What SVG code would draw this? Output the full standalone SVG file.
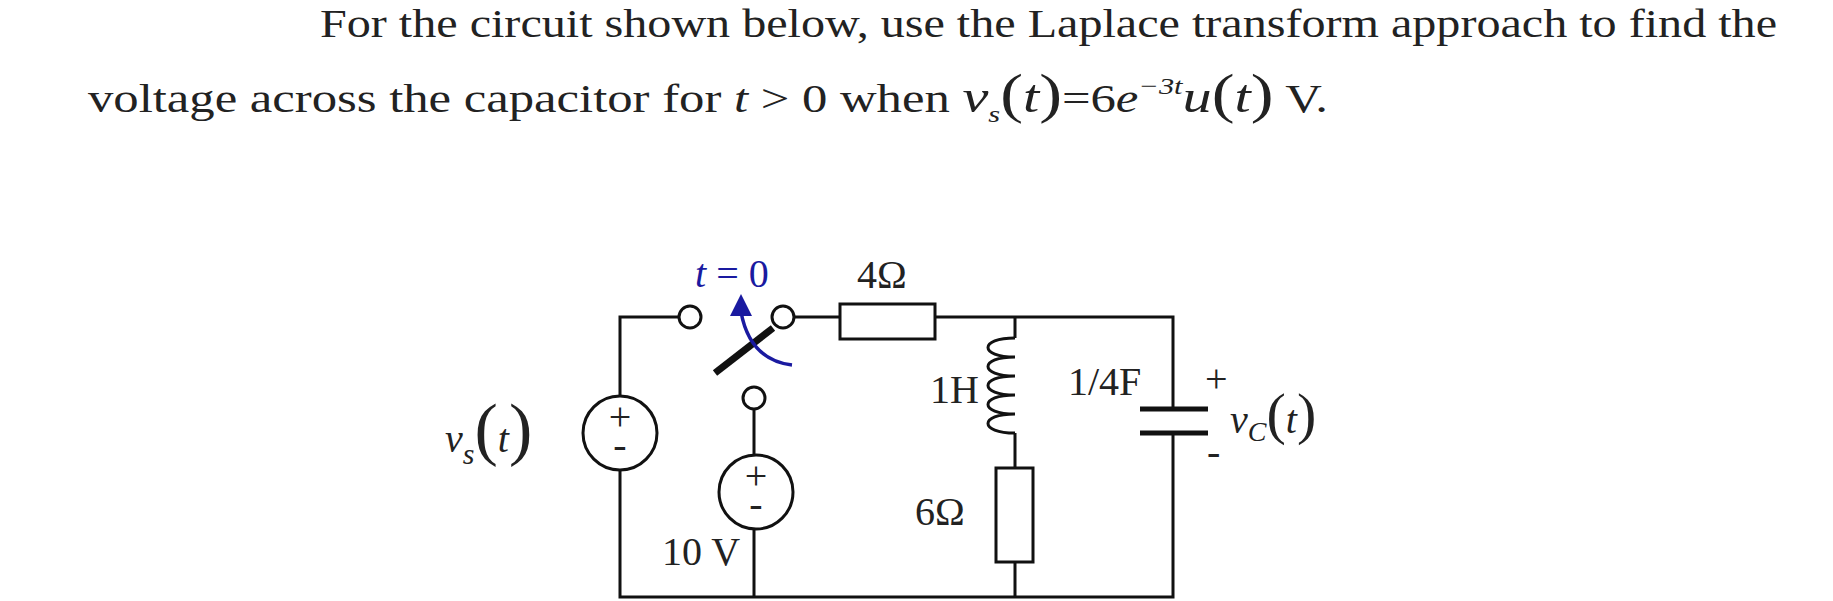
<svg xmlns="http://www.w3.org/2000/svg" width="1833" height="601" viewBox="0 0 1833 601">
<style>
.w{fill:none;stroke:#111;stroke-width:3}
.t{font-family:"Liberation Serif","DejaVu Serif",serif;font-size:40px;fill:#222}
.i{font-style:italic}
.b{fill:#1a1aa0}
</style>
<rect width="1833" height="601" fill="#fff"/>
<g id="question">
<text class="t" x="320" y="37" font-size="42" textLength="1457" lengthAdjust="spacingAndGlyphs">For the circuit shown below, use the Laplace transform approach to find the</text>
<text class="t" x="88" y="112" font-size="42" textLength="1240" lengthAdjust="spacingAndGlyphs">voltage across the capacitor for <tspan class="i">t</tspan> &gt; 0 when  <tspan class="i" font-size="46">v</tspan><tspan class="i" font-size="24" dy="10">s</tspan><tspan dy="-10" font-size="54">(</tspan><tspan class="i" font-size="46">t</tspan><tspan font-size="54">)</tspan>=6<tspan class="i">e</tspan><tspan class="i" font-size="24" dy="-18">−3t</tspan><tspan class="i" dy="18" font-size="46">u</tspan><tspan font-size="54">(</tspan><tspan class="i" font-size="46">t</tspan><tspan font-size="54">)</tspan> V.</text>
</g>
<g id="connectors">
<path class="w" d="M620 396 V317 H679"/>
<path class="w" d="M794 317 H840 M935 317 H1173 V409 M1173 433 V597 H620 V470"/>
<path class="w" d="M1015 317 V338 M1015 433 V468 M1015 562 V597"/>
<path class="w" d="M754 409 V455 M754 529 V597"/>
</g>
<g id="switch">
<circle class="w" cx="690" cy="317" r="11"/>
<circle class="w" cx="783" cy="317" r="11"/>
<circle class="w" cx="754" cy="398" r="11"/>
<path d="M715 373 L773 328" stroke="#111" stroke-width="7"/>
<path d="M792 365 Q750 360 741 312" fill="none" stroke="#1a1aa0" stroke-width="3.5"/>
<path d="M741 294 L730 316 L752 316 Z" class="b"/>
<text class="t b" x="695" y="287" font-size="44"><tspan class="i">t</tspan> = 0</text>
</g>
<g id="R4">
<rect class="w" x="840" y="304" width="95" height="35" fill="#fff"/>
<text class="t" x="857" y="288">4Ω</text>
</g>
<g id="L1">
<path class="w" d="M1015 338 c-36 0 -36 19 0 19 c-36 0 -36 19 0 19 c-36 0 -36 19 0 19 c-36 0 -36 19 0 19 c-36 0 -36 19 0 19"/>
<text class="t" x="930" y="403">1H</text>
</g>
<g id="R6">
<rect class="w" x="996" y="468" width="37" height="94" fill="#fff"/>
<text class="t" x="915" y="525">6Ω</text>
</g>
<g id="C1">
<path d="M1140 409 H1208 M1140 433 H1208" stroke="#111" stroke-width="5"/>
<text class="t" x="1068" y="395">1/4F</text>
<text class="t" x="1205" y="392" font-size="26">+</text>
<text class="t" x="1207" y="465" font-size="26">-</text>
<text class="t" x="1230" y="433" font-size="44"><tspan class="i">v</tspan><tspan class="i" font-size="28" dy="8">C</tspan><tspan dy="-8" font-size="58">(</tspan><tspan class="i">t</tspan><tspan font-size="58">)</tspan></text>
</g>
<g id="Vs">
<circle class="w" cx="620" cy="433" r="37"/>
<text class="t" x="620" y="430" font-size="30" text-anchor="middle">+</text>
<text class="t" x="620" y="458" font-size="30" text-anchor="middle">-</text>
<text class="t" x="445" y="452" font-size="58"><tspan class="i">v</tspan><tspan class="i" font-size="30" dy="12">s</tspan><tspan dy="-12" font-size="70">(</tspan><tspan class="i">t</tspan><tspan font-size="70">)</tspan></text>
</g>
<g id="V10">
<circle class="w" cx="756" cy="492" r="37"/>
<text class="t" x="756" y="489" font-size="30" text-anchor="middle">+</text>
<text class="t" x="756" y="517" font-size="30" text-anchor="middle">-</text>
<text class="t" x="662" y="565">10 V</text>
</g>
</svg>
